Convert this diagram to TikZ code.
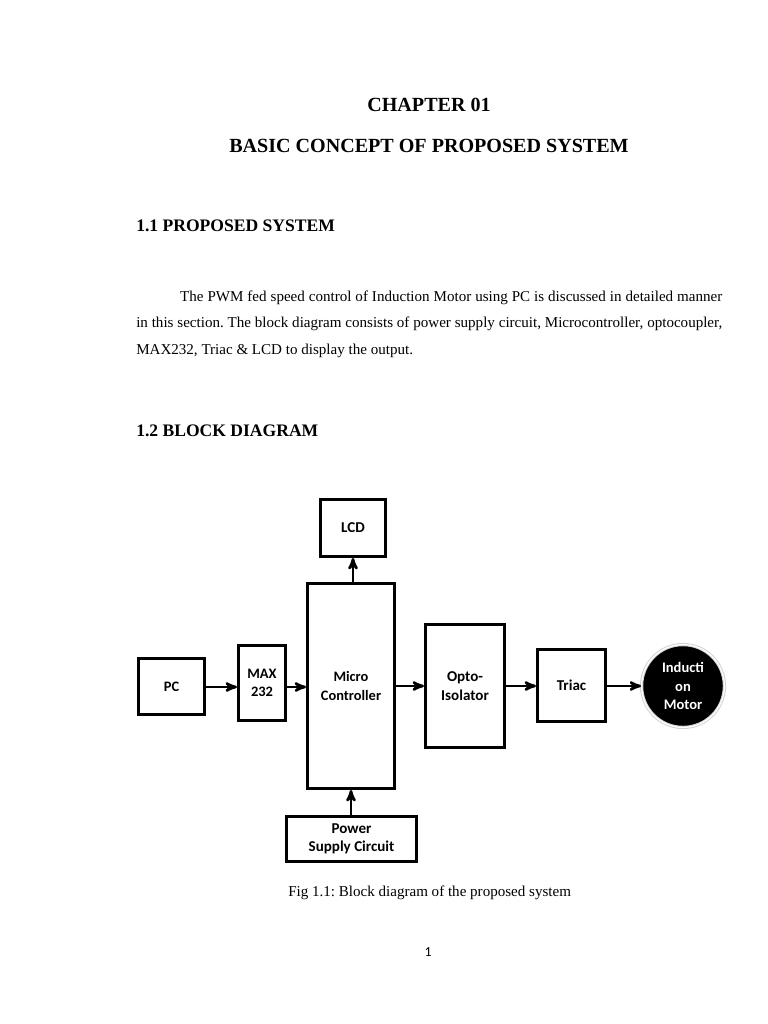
\documentclass[tikz,border=0pt]{standalone}
\usepackage{fontspec}
\setmainfont{Liberation Serif}
\newfontfamily\calibri{Carlito}
\usepackage{tikz}
\usetikzlibrary{arrows,positioning}
\frenchspacing

\begin{document}
\begin{tikzpicture}[x=0.796875pt,y=-0.796875pt,>=stealth',
        block/.style={draw,line width=2.4pt,inner sep=0pt,align=center,
                font=\calibri\bfseries\fontsize{12}{14.8}\selectfont},
        small/.style={font=\calibri\bfseries\fontsize{11.5}{14.4}\selectfont},
        motor/.style={circle,fill=black,draw=gray!35,double=white,double distance=1pt,
                line width=0.8pt,inner sep=0pt,minimum size=66pt,align=center,text=white,
                font=\calibri\bfseries\fontsize{11.6}{14.6}\selectfont},
        link/.style={->,line width=2pt}]
        \useasboundingbox (0,0) rectangle (768,1024);
        % page text
        \node[anchor=base,font=\bfseries\fontsize{16}{19}\selectfont] (chap) at (429,111) {CHAPTER 01};
        \node[anchor=base,font=\bfseries\fontsize{16}{19}\selectfont] (title) at (429,152.7) {BASIC CONCEPT OF PROPOSED SYSTEM};
        \node[anchor=base west,inner sep=0pt,font=\bfseries\fontsize{14}{17}\selectfont] (sec1) at (136,231) {1.1 PROPOSED SYSTEM};
        \node[anchor=north west,inner sep=0pt,text width=467pt,align=justify,
                font=\fontsize{12}{21.3}\selectfont] (para) at (136,290.4)
                {\hspace*{35pt}The PWM fed speed control of Induction Motor using PC is discussed in detailed manner\linebreak
                in this section. The block diagram consists of power supply circuit, Microcontroller, optocoupler,\linebreak
                MAX232, Triac \& LCD to display the output.};
        \node[anchor=base west,inner sep=0pt,font=\bfseries\fontsize{14}{17}\selectfont] (sec2) at (136,436.7) {1.2 BLOCK DIAGRAM};

        % blocks
        \node[block,small,minimum width=69.3pt,minimum height=163.4pt] (micro) at (351,686) {Micro\\Controller};
        \node[block,minimum width=51.8pt,minimum height=45.4pt] (lcd) at (353,528) {LCD};
        \node[block,small,minimum width=37.5pt,minimum height=59.8pt] (max) at (262,683) {MAX\\232};
        \node[block,small,minimum width=52.6pt,minimum height=44.6pt] (pc) at (171.5,686.5) {PC};
        \node[block,minimum width=63pt,minimum height=98pt] (opto) at (465,686) {Opto-\\Isolator};
        \node[block,minimum width=54.2pt,minimum height=57.4pt] (triac) at (571.5,685.5) {Triac};
        \node[motor] (motor) at (683,686) {Inducti\\on\\Motor};
        \node[block,minimum width=103.6pt,minimum height=35.9pt] (power) at (351.5,839) {Power\\Supply Circuit};

        \path[link] (pc.east |- 0,687) edge (max.west |- 0,687)
                (max.east |- 0,687) edge (micro.west |- 0,687)
                (micro.east) edge (opto.west)
                (opto.east) edge (triac.west |- opto.east)
                (triac.east |- opto.east) edge (motor.west)
                (micro.north -| lcd.south) edge (lcd.south)
                (power.north -| micro.south) edge (micro.south);

        % caption and page number
        \node[anchor=base west,inner sep=0pt,font=\fontsize{12}{14}\selectfont] (cap) at (288,896.7) {Fig 1.1: Block diagram of the proposed system};
        \node[anchor=base,inner sep=0pt,font=\calibri\fontsize{11}{13}\selectfont] (pnum) at (428,956) {1};
\end{tikzpicture}
\end{document}
